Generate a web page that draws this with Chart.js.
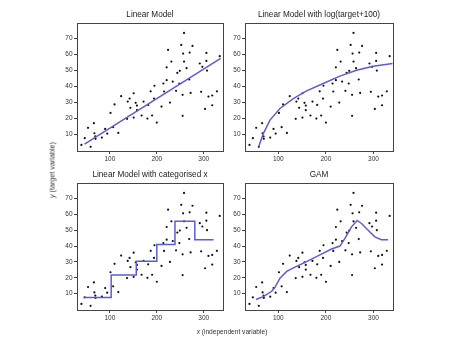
<!DOCTYPE html>
<html>
<head>
<meta charset="utf-8">
<script src="https://cdn.jsdelivr.net/npm/chart.js@4"></script>
<style>
  html, body { margin: 0; padding: 0; background: #fff; }
  #wrap { position: relative; width: 474px; height: 345px; font-family: "Liberation Sans", Arial, sans-serif; color: #333; }
  canvas { position: absolute; }
  .lab { position: absolute; font-size: 6.6px; white-space: nowrap; transform: translate(-50%, -50%); }
  .lab.y { font-size: 7.2px; transform: translate(-50%, -50%) rotate(-90deg); }
</style>
</head>
<body>
<div id="wrap">
  <canvas id="p1" width="180" height="165" style="left:49px;top:0px"></canvas>
  <canvas id="p2" width="182" height="165" style="left:217px;top:0px"></canvas>
  <canvas id="p3" width="180" height="164" style="left:49px;top:160px"></canvas>
  <canvas id="p4" width="182" height="164" style="left:217px;top:160px"></canvas>
  <div class="lab" style="left:232px;top:331px"><i>x</i> (independent variable)</div>
  <div class="lab y" style="left:51.5px;top:170px"><i>y</i> (target variable)</div>
</div>
<script>
// observed points (same in every panel)
const X_OBS = [39.4, 46.5, 53.5, 59, 66, 67, 69, 69.5, 83, 90, 94.4, 101.4, 107, 110, 118, 124,
  136.6, 138, 142, 143.7, 150.7, 150.7, 155, 157.7, 157.7, 167.6, 171.8, 180, 181.7, 187, 190,
  194, 195, 200, 210, 214, 215.5, 221, 221, 224, 228, 231, 234, 241, 243.7, 249, 248, 252, 255,
  256, 258, 255, 258, 263.4, 270, 269, 272, 276, 291.5, 294.4, 297, 302.8, 305.6, 305.6, 307,
  310, 318, 318, 328, 334];
const Y_OBS = [3.5, 7.7, 14.2, 2.3, 17.1, 10.8, 8.8, 7.3, 8.1, 13.5, 10.6, 23.5, 14.6, 28.8, 11, 34,
  19.8, 30.6, 32.5, 26.7, 35.8, 20.6, 29.8, 28.1, 25.2, 21.9, 30.6, 20, 28.5, 37, 21.9,
  32.5, 40.5, 17.5, 27.5, 41.9, 36.9, 52, 44, 62.9, 30, 55.6, 43.1, 37.3, 48.5, 49.8, 41.9, 66, 34.8,
  60.6, 55.6, 21.7, 73.5, 51.5, 61.25, 44.4, 36, 65.4, 54.4, 36.7, 52.3, 26, 61, 56, 50,
  33.75, 34.4, 28.3, 37, 59];

// fitted lines
const LM_X = [46, 336];
const LM_Y = [4.0, 57.6];

const LOG_X = [58.7, 68.5, 82.5, 103.5, 131.5, 159.4, 194.4, 229.4, 264.3, 299.3, 340];
const LOG_Y = [2.3, 10.6, 19, 26.3, 32.5, 37.3, 41.9, 46.5, 50.2, 52.7, 54.4];

const CAT_X = [43.7, 102.8, 156.3, 200, 238.7, 281, 321];
const CAT_Y = [7.5, 21.7, 30.4, 41, 55.6, 44, 44];

const GAM_X = [53, 68.5, 86, 93, 103.5, 117.5, 135, 159.4, 187.4, 211.9, 229.4, 239.9, 253.8,
  265.7, 274.8, 288.8, 302.8, 316.8, 330.8];
const GAM_Y = [6.3, 8.1, 11.5, 14, 19.8, 24, 26.7, 30.2, 34.4, 38.1, 40, 44.8, 52.1,
  56.1, 54.2, 50, 45.8, 44, 44];

const TITLES = ["Linear Model", "Linear Model with log(target+100)",
  "Linear Model with categorised x", "GAM"];
const X_TICKS = [100, 200, 300];
const Y_TICKS = [10, 20, 30, 40, 50, 60, 70];

const INK = "#444";
const LINE = "#5c5cd8";

Chart.defaults.font.family = '"Liberation Sans", Arial, sans-serif';
Chart.defaults.color = "#333";

const frame = {
  id: "frame",
  afterDraw(chart) {
    const a = chart.chartArea, ctx = chart.ctx;
    ctx.save();
    ctx.strokeStyle = INK;
    ctx.lineWidth = 1;
    ctx.strokeRect(Math.round(a.left) + 0.5, Math.round(a.top) + 0.5,
      Math.round(a.right - a.left), Math.round(a.bottom - a.top));
    ctx.restore();
  }
};

function pairs(xs, ys) {
  return xs.map((x, i) => ({ x, y: ys[i] }));
}

function draw(id, title, fx, fy, stepped) {
  new Chart(document.getElementById(id), {
    type: "scatter",
    data: {
      datasets: [
        {
          type: "line",
          data: pairs(fx, fy),
          borderColor: LINE,
          borderWidth: 1.5,
          pointRadius: 0,
          fill: false,
          tension: 0,
          stepped: stepped || false,
        },
        {
          data: pairs(X_OBS, Y_OBS),
          pointRadius: 1.1,
          pointBorderWidth: 0,
          backgroundColor: "#111",
          borderColor: "#111",
        },
      ],
    },
    options: {
      responsive: false,
      animation: false,
      layout: { padding: { top: 0, right: 6, bottom: 0, left: 0 } },
      plugins: {
        legend: { display: false },
        tooltip: { enabled: false },
        title: {
          display: true,
          fullSize: false,
          text: title,
          color: "#222",
          font: { size: 8.2, weight: "normal" },
          padding: { top: 9.8, bottom: 3.4 },
        },
      },
      scales: {
        x: {
          type: "linear",
          min: 30,
          max: 341,
          afterBuildTicks: (s) => { s.ticks = X_TICKS.map((v) => ({ value: v })); },
          afterFit: (s) => { s.height = 14; },
          ticks: { font: { size: 6.5 }, padding: 1, maxRotation: 0 },
          grid: { drawOnChartArea: false, tickLength: 3, tickColor: INK },
          border: { display: false },
        },
        y: {
          type: "linear",
          min: -0.3,
          max: 79.7,
          afterBuildTicks: (s) => { s.ticks = Y_TICKS.map((v) => ({ value: v })); },
          afterFit: (s) => { s.width = 28; },
          ticks: { font: { size: 6.5 }, padding: 1.5 },
          grid: { drawOnChartArea: false, tickLength: 3, tickColor: INK },
          border: { display: false },
        },
      },
    },
    plugins: [frame],
  });
}

draw("p1", TITLES[0], LM_X, LM_Y);
draw("p2", TITLES[1], LOG_X, LOG_Y);
draw("p3", TITLES[2], CAT_X, CAT_Y, "before");
draw("p4", TITLES[3], GAM_X, GAM_Y);
</script>
</body>
</html>
